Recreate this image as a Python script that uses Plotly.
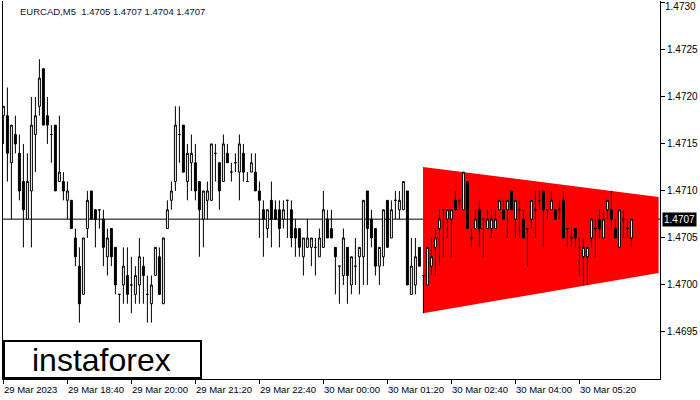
import plotly.graph_objects as go

# ---- data (EURCAD M5, 29 Mar 2023 17:20 -> 30 Mar 2023 06:25) ----
open_ = [1.4718,1.4718,1.4713,1.4716,1.4714,1.4711,1.4707,1.4710,1.4716,1.4719,
         1.4723,1.4718,1.4716,1.4717,1.4711,1.4711,1.4709,1.4709,1.4705,1.4702,
         1.4699,1.4706,1.4710,1.4708,1.4708,1.4707,1.4703,1.4706,1.4704,1.4699,
         1.4700,1.4701,1.4700,1.4699,1.4700,1.4702,1.4699,1.4698,1.4701,1.4703,
         1.4698,1.4706,1.4709,1.4711,1.4716,1.4717,1.4711,1.4713,1.4713,1.4711,
         1.4707,1.4709,1.4709,1.4714,1.4713,1.4711,1.4714,1.4712,1.4713,1.4712,
         1.4714,1.4711,1.4712,1.4712,1.4710,1.4708,1.4706,1.4709,1.4708,1.4708,
         1.4707,1.4709,1.4708,1.4706,1.4706,1.4703,1.4704,1.4704,1.4704,1.4703,
         1.4704,1.4707,1.4706,1.4704,1.4702,1.4701,1.4704,1.4700,1.4702,1.4703,
         1.4703,1.4710,1.4707,1.4706,1.4702,1.4703,1.4709,1.4705,1.4709,1.4708,
         1.4708,1.4710,1.4699,1.4700,1.4704,1.4701,1.4700,1.4702,1.4704,1.4706,
         1.4708,1.4707,1.4707,1.4709,1.4709,1.4708,1.4711,1.4705,1.4706,1.4708,
         1.4707,1.4706,1.4706,1.4706,1.4708,1.4708,1.4708,1.4710,1.4707,1.4708,
         1.4707,1.4706,1.4707,1.4708,1.4709,1.4710,1.4708,1.4708,1.4708,1.4708,
         1.4709,1.4706,1.4705,1.4706,1.4704,1.4703,1.4703,1.4705,1.4706,1.4707,
         1.4705,1.4708,1.4708,1.4706,1.4704,1.4707,1.4706,1.4705]
high = [1.4719,1.4721,1.4717,1.4718,1.4716,1.4715,1.4714,1.4720,1.4720,1.4724,
        1.4723,1.4720,1.4717,1.4717,1.4718,1.4712,1.4711,1.4709,1.4706,1.4704,
        1.4705,1.4710,1.4710,1.4708,1.4708,1.4708,1.4706,1.4706,1.4704,1.4699,
        1.4704,1.4704,1.4703,1.4702,1.4705,1.4703,1.4701,1.4701,1.4704,1.4704,
        1.4705,1.4709,1.4711,1.4719,1.4719,1.4717,1.4715,1.4716,1.4715,1.4711,
        1.4710,1.4711,1.4715,1.4715,1.4713,1.4716,1.4715,1.4713,1.4714,1.4716,
        1.4715,1.4712,1.4714,1.4714,1.4711,1.4709,1.4708,1.4711,1.4709,1.4709,
        1.4709,1.4709,1.4709,1.4707,1.4706,1.4705,1.4707,1.4705,1.4705,1.4706,
        1.4710,1.4708,1.4708,1.4704,1.4702,1.4706,1.4704,1.4703,1.4705,1.4704,
        1.4709,1.4710,1.4708,1.4706,1.4704,1.4708,1.4709,1.4709,1.4710,1.4710,
        1.4711,1.4710,1.4705,1.4705,1.4704,1.4701,1.4704,1.4705,1.4706,1.4708,
        1.4708,1.4708,1.4708,1.4710,1.4709,1.4712,1.4711,1.4706,1.4708,1.4709,
        1.4707,1.4708,1.4708,1.4708,1.4709,1.4709,1.4709,1.4710,1.4709,1.4709,
        1.4708,1.4706,1.4709,1.4710,1.4710,1.4710,1.4708,1.4710,1.4708,1.4709,
        1.4710,1.4706,1.4706,1.4706,1.4705,1.4705,1.4704,1.4707,1.4707,1.4708,
        1.4708,1.4709,1.4710,1.4707,1.4708,1.4708,1.4707,1.4707]
low = [1.4715,1.4711,1.4707,1.4714,1.4709,1.4704,1.4707,1.4704,1.4712,1.4718,
       1.4717,1.4715,1.4713,1.4710,1.4711,1.4709,1.4707,1.4706,1.4702,1.4696,
       1.4699,1.4705,1.4707,1.4704,1.4706,1.4702,1.4701,1.4702,1.4699,1.4696,
       1.4698,1.4698,1.4697,1.4698,1.4698,1.4698,1.4696,1.4696,1.4701,1.4699,
       1.4698,1.4706,1.4708,1.4710,1.4713,1.4712,1.4709,1.4710,1.4709,1.4703,
       1.4704,1.4707,1.4709,1.4711,1.4708,1.4711,1.4713,1.4711,1.4712,1.4709,
       1.4711,1.4711,1.4712,1.4710,1.4705,1.4703,1.4705,1.4704,1.4707,1.4704,
       1.4706,1.4705,1.4704,1.4703,1.4703,1.4701,1.4704,1.4702,1.4701,1.4703,
       1.4704,1.4705,1.4705,1.4699,1.4698,1.4700,1.4698,1.4699,1.4700,1.4699,
       1.4700,1.4700,1.4704,1.4701,1.4700,1.4702,1.4704,1.4705,1.4707,1.4707,
       1.4708,1.4700,1.4699,1.4699,1.4702,1.4697,1.4700,1.4701,1.4701,1.4702,
       1.4703,1.4705,1.4703,1.4708,1.4708,1.4708,1.4706,1.4704,1.4706,1.4704,
       1.4703,1.4706,1.4705,1.4706,1.4708,1.4707,1.4705,1.4708,1.4705,1.4705,
       1.4705,1.4702,1.4706,1.4705,1.4708,1.4704,1.4707,1.4708,1.4707,1.4707,
       1.4705,1.4704,1.4704,1.4704,1.4701,1.4700,1.4700,1.4704,1.4703,1.4705,
       1.4705,1.4707,1.4706,1.4705,1.4704,1.4705,1.4705,1.4704]
close = [1.4719,1.4714,1.4717,1.4715,1.4710,1.4708,1.4711,1.4717,1.4718,1.4722,
         1.4717,1.4717,1.4716,1.4710,1.4712,1.4710,1.4710,1.4706,1.4703,1.4698,
         1.4705,1.4709,1.4707,1.4707,1.4708,1.4704,1.4705,1.4703,1.4700,1.4699,
         1.4702,1.4699,1.4700,1.4701,1.4703,1.4701,1.4699,1.4700,1.4704,1.4699,
         1.4705,1.4708,1.4710,1.4717,1.4716,1.4712,1.4714,1.4714,1.4710,1.4708,
         1.4710,1.4710,1.4715,1.4714,1.4710,1.4715,1.4713,1.4712,1.4713,1.4715,
         1.4712,1.4711,1.4713,1.4710,1.4709,1.4707,1.4708,1.4707,1.4707,1.4706,
         1.4708,1.4709,1.4705,1.4705,1.4704,1.4705,1.4705,1.4705,1.4704,1.4705,
         1.4708,1.4705,1.4705,1.4703,1.4702,1.4705,1.4701,1.4703,1.4702,1.4704,
         1.4709,1.4706,1.4705,1.4702,1.4704,1.4708,1.4704,1.4708,1.4709,1.4709,
         1.4711,1.4700,1.4702,1.4703,1.4702,1.4701,1.4704,1.4703,1.4705,1.4707,
         1.4708,1.4708,1.4708,1.4708,1.4709,1.4712,1.4706,1.4705,1.4707,1.4706,
         1.4707,1.4707,1.4707,1.4707,1.4709,1.4707,1.4709,1.4708,1.4709,1.4708,
         1.4705,1.4706,1.4709,1.4708,1.4709,1.4708,1.4708,1.4709,1.4707,1.4708,
         1.4705,1.4706,1.4705,1.4705,1.4704,1.4704,1.4704,1.4707,1.4706,1.4706,
         1.4707,1.4709,1.4707,1.4705,1.4708,1.4707,1.4706,1.4707]

bar_index = list(range(len(close)))

# time-axis labels (every 16 bars = 80 minutes)
time_tick_bars = [0, 16, 32, 48, 64, 80, 96, 112, 128, 144]
time_tick_labels = ["29 Mar 2023", "29 Mar 18:40", "29 Mar 20:00", "29 Mar 21:20",
                    "29 Mar 22:40", "30 Mar 00:00", "30 Mar 01:20", "30 Mar 02:40",
                    "30 Mar 04:00", "30 Mar 05:20"]

price_ticks = [1.4695, 1.4700, 1.4705, 1.4710, 1.4715, 1.4720, 1.4725, 1.4730]
price_tick_labels = ["1.4695", "1.4700", "1.4705", "1.4710", "1.4715", "1.4720", "1.4725", "1.4730"]

current_price = 1.4707
current_price_label = "1.4707"
title_text = "EURCAD,M5  1.4705 1.4707 1.4704 1.4707"

# symmetrical triangle pattern (bar index, price)
pattern_x = [104.9, 163.8, 163.8, 104.9]
pattern_y = [1.471255, 1.470936, 1.470128, 1.469700]

X_RANGE = [-0.1, 164.15]
Y_RANGE = [1.4690, 1.47302]

FONT = "Liberation Sans"

fig = go.Figure()

fig.add_trace(go.Candlestick(
    x=bar_index, open=open_, high=high, low=low, close=close,
    increasing=dict(line=dict(color="black", width=1), fillcolor="white"),
    decreasing=dict(line=dict(color="black", width=1), fillcolor="black"),
    whiskerwidth=0, hoverinfo="skip", showlegend=False))

W, H = 700, 400
ml, mr, mt, mb = 3, 40, 1, 21
pw, ph = W - ml - mr, H - mt - mb

def px_to_paper_x(px):
    return (px - ml) / pw

def px_to_paper_y(py):
    return (H - mb - py) / ph

# the topmost price label sits at the window edge; draw it as an annotation
# pinned just inside the top so it is not cut off
axis_labels = list(price_tick_labels)
top_label = axis_labels[-1]
axis_labels[-1] = ""

annotations = []
for b, lab in zip(time_tick_bars, time_tick_labels):
    annotations.append(dict(
        x=b, xref="x", y=px_to_paper_y(389), yref="paper", text=lab,
        showarrow=False, xanchor="left", yanchor="middle", xshift=-1,
        font=dict(family=FONT, size=9.5, color="black")))

annotations.append(dict(
    x=px_to_paper_x(664), xref="paper", y=px_to_paper_y(0), yref="paper",
    text=top_label, showarrow=False, xanchor="left", yanchor="top",
    borderpad=0, font=dict(family=FONT, size=10, color="black")))

annotations.append(dict(
    x=px_to_paper_x(18), xref="paper", y=px_to_paper_y(12), yref="paper",
    text=title_text, showarrow=False, xanchor="left", yanchor="middle",
    font=dict(family=FONT, size=9.5, color="#101030")))

annotations.append(dict(
    x=px_to_paper_x(662), xref="paper", y=current_price, yref="y",
    text=current_price_label, showarrow=False, xanchor="left", yanchor="middle",
    bgcolor="black", borderpad=1,
    font=dict(family=FONT, size=10, color="white")))

annotations.append(dict(
    x=px_to_paper_x(101), xref="paper", y=px_to_paper_y(360), yref="paper",
    text="instaforex", showarrow=False, xanchor="center", yanchor="middle",
    font=dict(family=FONT, size=32, color="black")))

tri_path = "M " + " L ".join(f"{x},{y}" for x, y in zip(pattern_x, pattern_y)) + " Z"

shapes = [
    dict(type="path", xref="x", yref="y", path=tri_path,
         fillcolor="#FF0000", line=dict(width=0), layer="below"),
    dict(type="line", xref="paper", yref="y", x0=0, x1=1,
         y0=current_price, y1=current_price,
         line=dict(color="black", width=1), layer="below"),
    dict(type="rect", xref="paper", yref="paper",
         x0=px_to_paper_x(4), x1=px_to_paper_x(201),
         y0=px_to_paper_y(378), y1=px_to_paper_y(341),
         line=dict(color="black", width=2), fillcolor="white", layer="above"),
]

fig.update_layout(
    width=W, height=H,
    margin=dict(l=ml, r=mr, t=mt, b=mb, pad=0),
    paper_bgcolor="white", plot_bgcolor="white",
    showlegend=False,
    annotations=annotations,
    shapes=shapes,
    xaxis=dict(
        range=X_RANGE, rangeslider=dict(visible=False),
        tickmode="array", tickvals=time_tick_bars, ticktext=[""] * len(time_tick_bars),
        ticks="outside", ticklen=4, tickcolor="black", tickwidth=1,
        showline=True, linecolor="black", linewidth=1,
        showgrid=False, zeroline=False, fixedrange=True),
    yaxis=dict(
        range=Y_RANGE, side="right",
        tickmode="array", tickvals=price_ticks, ticktext=axis_labels,
        ticks="outside", ticklen=4, tickcolor="black", tickwidth=1,
        tickfont=dict(family=FONT, size=10, color="black"),
        showline=True, linecolor="black", linewidth=1, mirror=True,
        showgrid=False, zeroline=False, automargin=False, fixedrange=True),
)

fig.write_html(
    "out.html",
    config={"displayModeBar": False},
    post_script="document.body.style.margin='0';document.body.style.overflow='hidden';",
)
